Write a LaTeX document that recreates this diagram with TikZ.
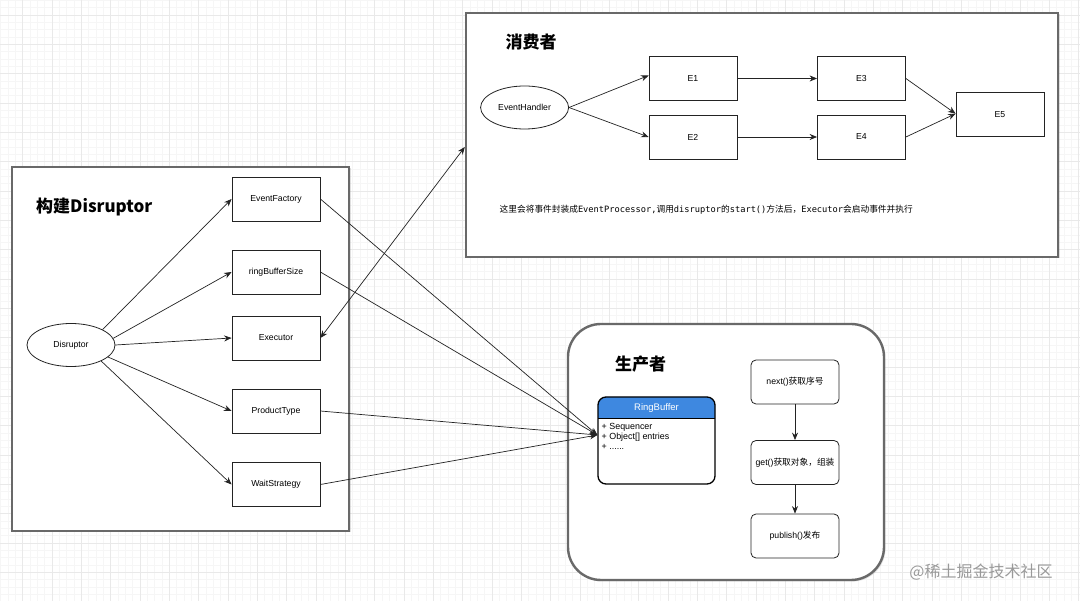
\documentclass[tikz,border=0pt]{standalone}
\usepackage{fontspec}
\setmainfont{Liberation Sans}
\newfontfamily\cjk{Noto Sans CJK SC}
\newfontfamily\mono{DejaVu Sans Mono}
\usetikzlibrary{shapes.geometric,arrows.meta,shadows}

\definecolor{gridminor}{RGB}{246,246,246}
\definecolor{gridmajor}{RGB}{233,233,233}
\definecolor{rbblue}{RGB}{62,136,224}
\definecolor{framegray}{RGB}{105,105,105}
\definecolor{linecol}{RGB}{35,35,35}

\begin{document}
\begin{tikzpicture}[x=1pt,y=-1pt,
  lbl/.style={font=\fontsize{8.7}{10}\selectfont},
  box/.style={draw=linecol,line width=0.8,minimum width=88,minimum height=44,inner sep=0,lbl,fill=white},
  rbox/.style={box,rounded corners=5},
  ell/.style={ellipse,draw=linecol,line width=0.8,minimum width=88,minimum height=43,inner sep=0,lbl,fill=white},
  frame/.style={draw=framegray,line width=2.4,fill=white,inner sep=0,
     drop shadow={shadow xshift=1.5pt,shadow yshift=-1.5pt,opacity=0.25}},
  arr/.style={draw=linecol,line width=0.7,-{Stealth[length=7.5,width=6]}},
  darr/.style={draw=linecol,line width=0.7,{Stealth[length=7.5,width=6]}-{Stealth[length=7.5,width=6]}},
  title/.style={font=\cjk\bfseries\fontsize{17}{20}\selectfont,anchor=west,inner sep=0}]

\useasboundingbox (0,0) rectangle (1080,601);
\fill[white] (0,0) rectangle (1080,601);
% background grid
\foreach \i in {0,...,147} \draw[gridminor,line width=0.6] ({0.7+7.3333*\i},0) -- ({0.7+7.3333*\i},601);
\foreach \i in {0,...,82} \draw[gridminor,line width=0.6] (0,{0.33+7.3333*\i}) -- (1080,{0.33+7.3333*\i});
\foreach \i in {0,...,36} \draw[gridmajor,line width=0.8] ({22.7+29.3333*\i},0) -- ({22.7+29.3333*\i},601);
\foreach \i in {0,...,20} \draw[gridmajor,line width=0.8] (0,{15+29.3333*\i}) -- (1080,{15+29.3333*\i});

% frames
\node[frame,minimum width=337,minimum height=364] (build) at (180.5,349) {};
\node[frame,minimum width=592,minimum height=244] (cons) at (762,135) {};
\node[frame,rounded corners=33,minimum width=316,minimum height=256] (prod) at (726,452) {};

% titles
\node[title] (tbuild) at (36,207) {构建Disruptor};
\node[title] (tcons) at (505.5,42) {消费者};
\node[title] (tprod) at (615,364) {生产者};

% build part
\node[ell] (dis) at (71,345) {Disruptor};
\node[box] (ef) at (276,199) {EventFactory};
\node[box] (rbs) at (276,272) {ringBufferSize};
\node[box] (ex) at (276,338) {Executor};
\node[box] (pt) at (276,411) {ProductType};
\node[box] (ws) at (276,484.5) {WaitStrategy};

\draw[arr] (dis.26) -- (ef.west);
\draw[arr] (dis.9) -- (rbs.west);
\draw[arr] (dis.east) -- (ex.west);
\draw[arr] (dis.-18) -- (pt.west);
\draw[arr] (dis.-28) -- (ws.west);

% consumer part
\node[ell] (eh) at (524.6,107.5) {EventHandler};
\node[box] (e1) at (693,78.5) {E1};
\node[box] (e2) at (693,137) {E2};
\node[box] (e3) at (861.5,78.5) {E3};
\node[box] (e4) at (861.5,137) {E4};
\node[box] (e5) at (1000,114.7) {E5};

\draw[arr] (eh.east) -- ([yshift=3pt]e1.west);
\draw[arr] (eh.east) -- (e2.west);
\draw[arr] (e1.east) -- (e3.west);
\draw[arr] (e2.east) -- (e4.west);
\draw[arr] (e3.east) -- ([yshift=1pt]e5.west);
\draw[arr] (e4.east) -- ([yshift=1pt]e5.west);

\node[anchor=west,inner sep=0,font=\fontsize{8.7}{10}\selectfont] (note) at (499.5,210)
  {{\cjk 这里会将事件封装成}{\mono EventProcessor,}{\cjk 调用}{\mono disruptor}{\cjk 的}{\mono start()}{\cjk 方法后，}{\mono Executor}{\cjk 会启动事件并执行}};

% producer part
\begin{scope}
  \clip (596,395) rectangle (717,419);
  \fill[rbblue,rounded corners=8] (598,397) rectangle (715,484);
\end{scope}
\node[draw=black,line width=1.3,rounded corners=8,minimum width=117,minimum height=87,inner sep=0] (rb) at (656.5,440.5) {};
\draw[black,line width=1] (598,419) -- (715,419);
\node[lbl,text=white,font=\fontsize{9.5}{11}\selectfont] (rbt) at (656.5,408) {RingBuffer};
\node[lbl,anchor=north west,align=left,inner sep=0,font=\fontsize{8.9}{9.9}\selectfont] (rbattr) at (601.5,423.5)
  {+ Sequencer\\+ Object[] entries\\+ ......};

\node[rbox] (n1) at (795,382) {next(){\cjk 获取序号}};
\node[rbox] (n2) at (795,462.5) {get(){\cjk 获取对象，组装}};
\node[rbox] (n3) at (795,536) {publish(){\cjk 发布}};
\draw[arr] (n1.south) -- (n2.north);
\draw[arr] (n2.south) -- (n3.north);

% cross connectors
\draw[arr] (ef.east) -- ([yshift=5.5pt]rb.west);
\draw[arr] (rbs.east) -- ([yshift=5.5pt]rb.west);
\draw[arr] (pt.east) -- ([yshift=5.5pt]rb.west);
\draw[arr] (ws.east) -- ([yshift=5.5pt]rb.west);
\draw[darr] (ex.east) -- ([yshift=-12pt]cons.west);

% watermark
\node[font=\cjk\fontsize{16}{18}\selectfont,text=black!40,inner sep=0] (wm) at (981,572) {@稀土掘金技术社区};
\end{tikzpicture}
\end{document}
